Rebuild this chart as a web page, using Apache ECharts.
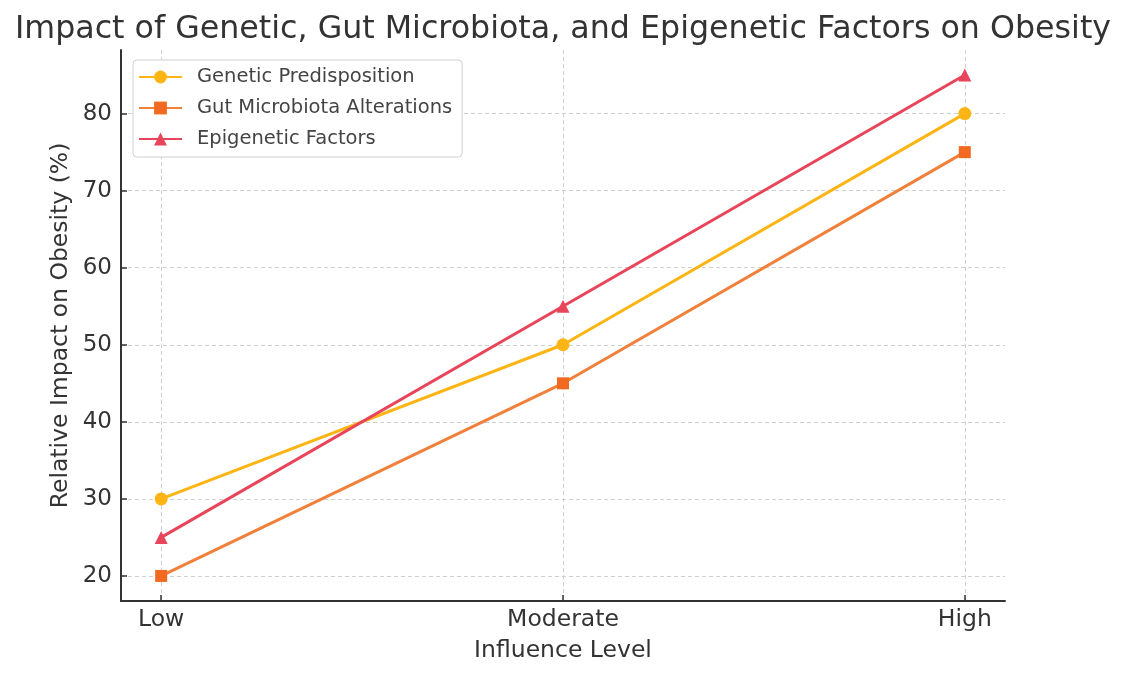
<!DOCTYPE html>
<html>
<head>
<meta charset="utf-8">
<script src="https://cdn.jsdelivr.net/npm/echarts@6/dist/echarts.min.js"></script>
<style>html,body{margin:0;padding:0;background:#fff;}#c{width:1126px;height:678px;}</style>
</head>
<body>
<div id="c"></div>
<script>
var categories = ['Low', 'Moderate', 'High'];
var genetic = [30, 50, 80];
var microbiota = [20, 45, 75];
var epigenetic = [25, 55, 85];
var yTicks = [20, 30, 40, 50, 60, 70, 80];
var xTicks = [0, 1, 2];

function pairs(vals) { return vals.map(function (v, i) { return [i, v]; }); }

var chart = echarts.init(document.getElementById('c'));
var font = 'DejaVu Sans';
var gridLine = { color: '#d0d0d0', type: [4, 3], width: 1 };
chart.setOption({
  animation: false,
  backgroundColor: '#fff',
  textStyle: { fontFamily: font },
  title: {
    text: 'Impact of Genetic, Gut Microbiota, and Epigenetic Factors on Obesity',
    left: 'center', top: 9,
    textStyle: { fontFamily: font, fontSize: 31.7, fontWeight: 'normal', color: '#333' }
  },
  legend: {
    left: 133, top: 60, orient: 'vertical',
    padding: [7, 10, 8, 5], itemGap: 11, itemWidth: 43, itemHeight: 16,
    borderColor: '#d0d0d0', borderWidth: 1, borderRadius: 4, backgroundColor: '#fff',
    textStyle: { fontFamily: font, fontSize: 19.5, color: '#444', padding: [0, 0, 0, 10] },
    data: ['Genetic Predisposition', 'Gut Microbiota Alterations', 'Epigenetic Factors']
  },
  grid: { left: 121, right: 121, top: 50, bottom: 77, containLabel: false },
  xAxis: {
    type: 'value', min: -0.1, max: 2.1,
    name: 'Influence Level', nameLocation: 'middle', nameGap: 38, nameMoveOverlap: false,
    nameTextStyle: { fontFamily: font, fontSize: 23.5, color: '#333' },
    axisLine: { onZero: false, lineStyle: { color: '#333', width: 2 } },
    axisTick: { show: true, inside: true, length: 6, customValues: xTicks, lineStyle: { color: '#333', width: 1.5 } },
    axisLabel: { customValues: xTicks, fontSize: 23.5, color: '#333', margin: 7,
      formatter: function (v) { return categories[Math.round(v)] || ''; } },
    splitLine: { show: true, customValues: xTicks, lineStyle: gridLine }
  },
  yAxis: {
    type: 'value', min: 16.75, max: 88.25,
    name: 'Relative Impact on Obesity (%)', nameLocation: 'middle', nameGap: 48, nameMoveOverlap: false,
    nameTextStyle: { fontFamily: font, fontSize: 23.5, color: '#333' },
    axisLine: { show: true, onZero: false, lineStyle: { color: '#333', width: 2 } },
    axisTick: { show: true, inside: true, length: 6, customValues: yTicks, lineStyle: { color: '#333', width: 1.5 } },
    axisLabel: { customValues: yTicks, fontSize: 23, color: '#333', margin: 9 },
    splitLine: { show: true, customValues: yTicks, lineStyle: gridLine }
  },
  series: [
    { name: 'Genetic Predisposition', type: 'line', data: pairs(genetic),
      symbol: 'circle', symbolSize: 13, color: '#FDB515',
      lineStyle: { width: 3, color: '#FDB515' }, itemStyle: { color: '#FDB515' } },
    { name: 'Gut Microbiota Alterations', type: 'line', data: pairs(microbiota),
      symbol: 'rect', symbolSize: 12, color: '#F07028',
      lineStyle: { width: 3, color: '#F0803A' }, itemStyle: { color: '#F26A21' } },
    { name: 'Epigenetic Factors', type: 'line', data: pairs(epigenetic),
      symbol: 'triangle', symbolSize: 13, color: '#E8445A',
      lineStyle: { width: 3, color: '#E8445A' }, itemStyle: { color: '#E8445A' } }
  ]
});
</script>
</body>
</html>
